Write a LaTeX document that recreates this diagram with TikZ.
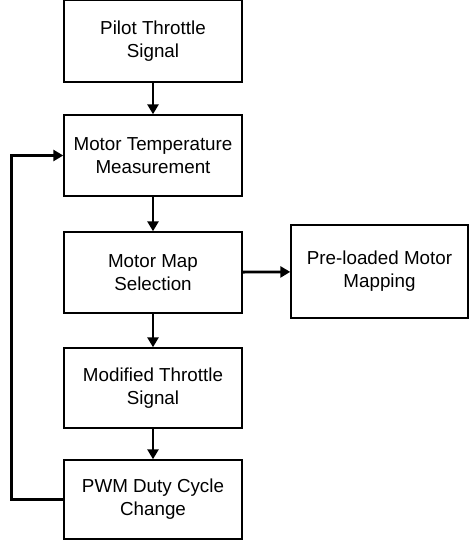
\documentclass[tikz,border=0pt]{standalone}
\usepackage{fontspec}
\setmainfont{Liberation Sans}
\usetikzlibrary{arrows.meta}

\begin{document}
\begin{tikzpicture}[x=1pt,y=-1pt,
  block/.style={draw,line width=1.4pt,minimum width=178pt,minimum height=80pt,
    align=center,inner sep=0pt,font=\fontsize{18.8}{23}\selectfont},
  flow/.style={line width=2.8pt,-{Triangle[length=10pt,width=11pt]}}]
\useasboundingbox (0,0) rectangle (474,544);
% main chain
\node[block,minimum height=82pt] (pilot) at (153,41) {Pilot Throttle\\Signal};
\node[block,minimum height=81pt] (temp) at (153,155.5) {Motor Temperature\\Measurement};
\node[block,minimum height=81pt] (map) at (153,272.5) {Motor Map\\Selection};
\node[block,minimum width=177pt,minimum height=93pt] (preload) at (379.5,271.5) {Pre-loaded Motor\\Mapping};
\node[block] (mod) at (153,388) {Modified Throttle\\Signal};
\node[block,minimum height=79pt] (pwm) at (153,499.5) {PWM Duty Cycle\\Change};
% connectors
\draw[flow] (pilot) -- (temp);
\draw[flow] (temp) -- (map);
\draw[flow] (map) -- (preload);
\draw[flow] (map) -- (mod);
\draw[flow] (mod) -- (pwm);
% feedback loop
\draw[flow] (pwm.west) -- ++(-52,0) |- (temp.west);
\end{tikzpicture}
\end{document}
